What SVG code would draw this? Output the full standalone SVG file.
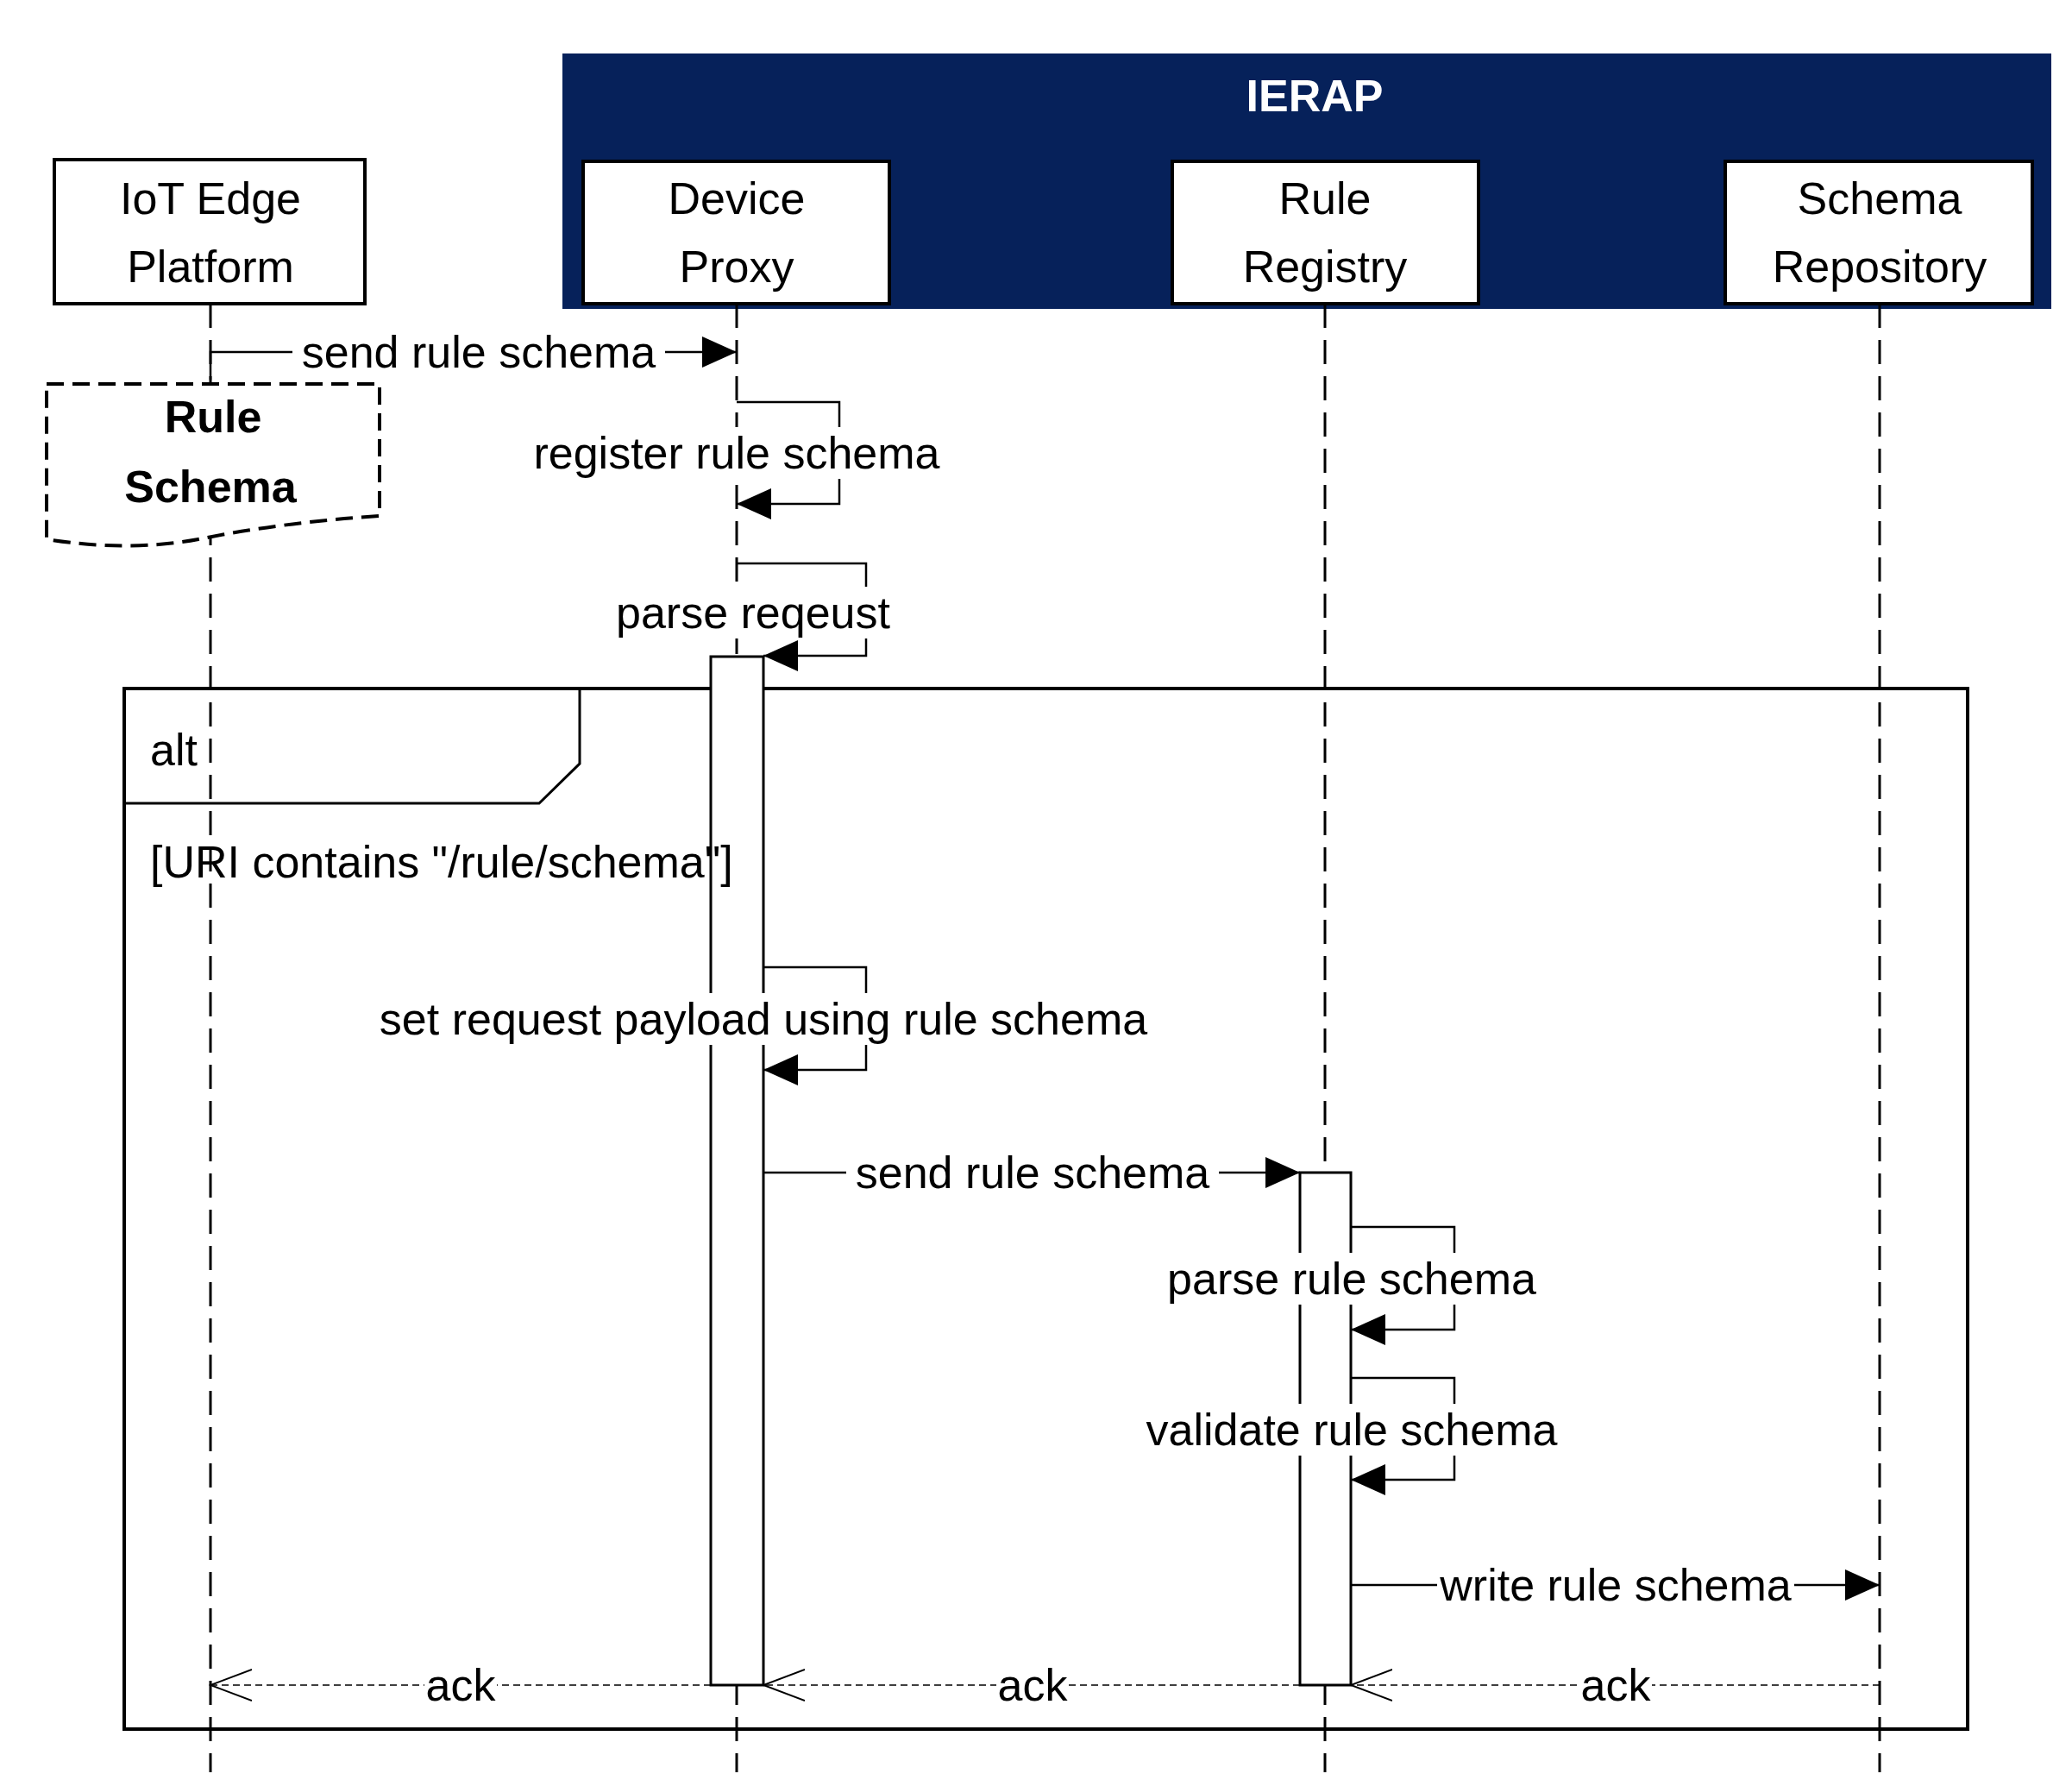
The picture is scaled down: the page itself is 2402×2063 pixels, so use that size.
<svg xmlns="http://www.w3.org/2000/svg" width="2402" height="2063" viewBox="0 0 2402 2063">
<style>
text{font-family:"Liberation Sans",Arial,sans-serif;font-size:52px;fill:#000;dominant-baseline:central;text-anchor:middle}
.box{fill:#fff;stroke:#000;stroke-width:4}
.life{stroke:#000;stroke-width:3;stroke-dasharray:28,14;fill:none}
.msg{stroke:#000;stroke-width:2.5;fill:none}
.ack{stroke:#000;stroke-width:1.5;stroke-dasharray:8,5;fill:none}
.lbl{fill:#fff}
</style>
<defs>
<marker id="big" viewBox="0 0 40 40" refX="40" refY="20" markerWidth="40" markerHeight="40" orient="auto" markerUnits="userSpaceOnUse"><path d="M0,2 L40,20 L0,38 Z" fill="#000"/></marker>
<marker id="open" viewBox="0 0 50 40" refX="48" refY="20" markerWidth="50" markerHeight="40" orient="auto" markerUnits="userSpaceOnUse"><path d="M0,2 L48,20 L0,38" fill="none" stroke="#000" stroke-width="2"/></marker>
</defs>
<rect x="652" y="62" width="1726" height="296" fill="#06215a"/>
<text x="1524" y="111" style="fill:#fff;font-weight:bold">IERAP</text>
<g id="lifelines">
<line class="life" x1="244" y1="352" x2="244" y2="2054"/>
<line class="life" x1="854" y1="352" x2="854" y2="2054"/>
<line class="life" x1="1536" y1="352" x2="1536" y2="2054"/>
<line class="life" x1="2179" y1="352" x2="2179" y2="2054"/>
</g>
<g id="iot"><rect class="box" x="63" y="185" width="360" height="167"/><text x="244" y="230">IoT Edge</text><text x="244" y="309">Platform</text></g>
<g id="proxy"><rect class="box" x="676" y="187" width="355" height="165"/><text x="854" y="230">Device</text><text x="854" y="309">Proxy</text></g>
<g id="registry"><rect class="box" x="1359" y="187" width="355" height="165"/><text x="1536" y="230">Rule</text><text x="1536" y="309">Registry</text></g>
<g id="repo"><rect class="box" x="2000" y="187" width="356" height="165"/><text x="2179" y="230">Schema</text><text x="2179" y="309">Repository</text></g>
<g id="note"><path d="M54,445 L440,445 L440,598 Q330,605 230,625 Q150,640 54,625 Z" fill="#fff" stroke="#000" stroke-width="4" stroke-dasharray="20,10"/>
<text x="247" y="483" style="font-weight:bold">Rule</text><text x="244" y="564" style="font-weight:bold">Schema</text></g>
<g id="alt"><rect x="144" y="798" width="2137" height="1206" fill="none" stroke="#000" stroke-width="4"/>
<path d="M144,931 L625,931 L672,885 L672,798" fill="none" stroke="#000" stroke-width="3"/>
<text x="174" y="869" style="text-anchor:start">alt</text></g>
<g id="activations">
<rect class="box" x="824" y="761" width="61" height="1192" style="stroke-width:3"/>
<rect class="box" x="1507" y="1359" width="59" height="594" style="stroke-width:3"/>
</g>
<text x="174" y="999" style="text-anchor:start">[URI contains "/rule/schema"]</text>
<g id="connectors">
<path class="msg" d="M244,440 L244,408 L854,408" marker-end="url(#big)"/>
<rect class="lbl" x="339" y="378" width="432" height="60"/><text x="555" y="408">send rule schema</text>
<path class="msg" d="M854,466 L973,466 L973,584 L854,584" marker-end="url(#big)"/>
<rect class="lbl" x="590" y="495" width="528" height="60"/><text x="854" y="525">register rule schema</text>
<path class="msg" d="M854,653 L1004,653 L1004,760 L885,760" marker-end="url(#big)"/>
<rect class="lbl" x="710" y="680" width="326" height="60"/><text x="873" y="710">parse reqeust</text>
<path class="msg" d="M885,1121 L1004,1121 L1004,1240 L885,1240" marker-end="url(#big)"/>
<rect class="lbl" x="440" y="1151" width="890" height="60"/><text x="885" y="1181">set request payload using rule schema</text>
<path class="msg" d="M885,1359 L1507,1359" marker-end="url(#big)"/>
<rect class="lbl" x="981" y="1329" width="432" height="60"/><text x="1197" y="1359">send rule schema</text>
<path class="msg" d="M1566,1422 L1686,1422 L1686,1541 L1566,1541" marker-end="url(#big)"/>
<rect class="lbl" x="1350" y="1452" width="434" height="60"/><text x="1567" y="1482">parse rule schema</text>
<path class="msg" d="M1566,1597 L1686,1597 L1686,1715 L1566,1715" marker-end="url(#big)"/>
<rect class="lbl" x="1324" y="1627" width="486" height="60"/><text x="1567" y="1657">validate rule schema</text>
<path class="msg" d="M1566,1837 L2179,1837" marker-end="url(#big)"/>
<rect class="lbl" x="1666" y="1807" width="414" height="60"/><text x="1873" y="1837">write rule schema</text>
<path class="ack" d="M2179,1953 L1566,1953" marker-end="url(#open)"/>
<path class="ack" d="M1507,1953 L885,1953" marker-end="url(#open)"/>
<path class="ack" d="M824,1953 L244,1953" marker-end="url(#open)"/>
<rect class="lbl" x="1831" y="1925" width="84" height="56"/><text x="1873" y="1953">ack</text>
<rect class="lbl" x="1155" y="1925" width="84" height="56"/><text x="1197" y="1953">ack</text>
<rect class="lbl" x="492" y="1925" width="84" height="56"/><text x="534" y="1953">ack</text>
</g>
</svg>
